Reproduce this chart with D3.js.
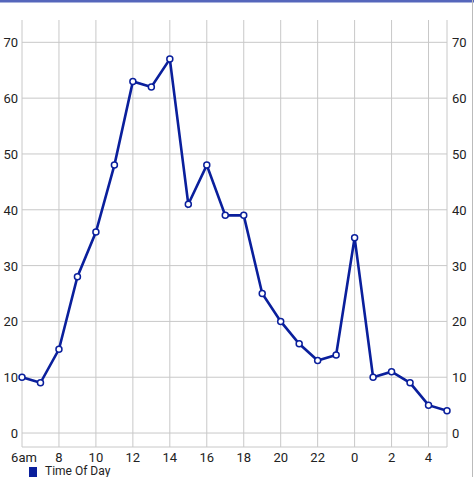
<!DOCTYPE html><html><head><script src="https://d3js.org/d3.v7.min.js"></script>
<style>body{margin:0;background:#fff}text{font-family:Roboto,sans-serif}</style></head><body><svg id="c" width="474" height="477"></svg>
<script>
const categories=["6am","7","8","9","10","11","12","13","14","15","16","17","18","19","20","21","22","23","0","1","2","3","4","5"];
const values=[10,9,15,28,36,48,63,62,67,41,48,39,39,25,20,16,13,14,35,10,11,9,5,4];
const yTicks=[0,10,20,30,40,50,60,70];
const svg=d3.select("#c");
const L=22,R=447,T=20,B=447;
const x=d3.scaleLinear().domain([0,categories.length-1]).range([L,R]);
const y=d3.scaleLinear().domain([-2.5,74]).range([B,T]);
svg.append("rect").attr("x",0).attr("y",0).attr("width",474).attr("height",2.5).attr("fill","#5566bb");
svg.append("line").attr("x1",472.5).attr("x2",472.5).attr("y1",0).attr("y2",477).attr("stroke","#bbb");
const g=svg.append("g");
yTicks.forEach(t=>g.append("line").attr("x1",L).attr("x2",R).attr("y1",y(t)).attr("y2",y(t)).attr("stroke","#c8c8c8"));
categories.forEach((c,i)=>{if(i%2==0||i==categories.length-1)g.append("line").attr("x1",x(i)).attr("x2",x(i)).attr("y1",T).attr("y2",B).attr("stroke","#c8c8c8");});
g.append("line").attr("x1",L).attr("x2",R).attr("y1",B).attr("y2",B).attr("stroke","#c8c8c8");
yTicks.forEach(t=>{
 g.append("text").attr("x",18).attr("y",y(t)+5).attr("text-anchor","end").attr("font-size",13).attr("fill","#222").text(t);
 g.append("text").attr("x",452).attr("y",y(t)+5).attr("font-size",13).attr("fill","#222").text(t);
});
categories.forEach((c,i)=>{if(i%2==0)g.append("text").attr("x",i==0?x(i)+2:x(i)).attr("y",462).attr("text-anchor","middle").attr("font-size",13).attr("fill","#222").text(c);});
g.append("path").datum(values).attr("fill","none").attr("stroke","#0a1f9c").attr("stroke-width",2.6)
 .attr("d",d3.line().x((d,i)=>x(i)).y(d=>y(d)));
g.selectAll("circle").data(values).join("circle").attr("cx",(d,i)=>x(i)).attr("cy",d=>y(d)).attr("r",3).attr("fill","#fff").attr("stroke","#0a1f9c").attr("stroke-width",1.5);
svg.append("rect").attr("x",29).attr("y",467).attr("width",8).attr("height",10).attr("fill","#0a1f9c");
svg.append("text").attr("x",45).attr("y",475).attr("font-size",12).attr("fill","#222").text("Time Of Day");
</script></body></html>
